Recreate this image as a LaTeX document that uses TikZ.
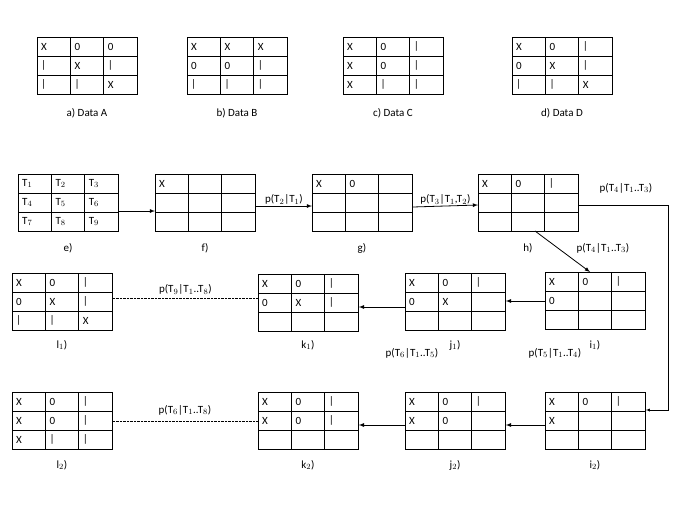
\documentclass[tikz,border=0pt]{standalone}
\usepackage{fontspec}
\setmainfont{Carlito}
\begin{document}
\begin{tikzpicture}[x=1pt,y=-1pt,font=\fontsize{11}{13}\selectfont,
  arr/.style={-latex,thick},
  dotl/.style={densely dotted},
  lab/.style={inner sep=1pt}]
\useasboundingbox (0,0) rectangle (677,507);
\newcommand\mygrid[4]{%
  \node[draw,thick,minimum width=100pt,minimum height=57pt,anchor=north west,inner sep=0] (#1) at (#2,#3) {};
  \draw[thick] (#2+33.3,#3) -- (#2+33.3,#3+57) (#2+66.7,#3) -- (#2+66.7,#3+57)
    (#2,#3+19) -- (#2+100,#3+19) (#2,#3+38) -- (#2+100,#3+38);
  \foreach \t [count=\i from 0] in {#4} {
    \pgfmathtruncatemacro\cc{mod(\i,3)}
    \pgfmathtruncatemacro\rr{int(\i/3)}
    \node[anchor=west,inner sep=0] (#1c\i) at (#2+4+\cc*33.33,#3+9.5+\rr*19) {\t};
  }}
\mygrid{A}{37}{37}{X,0,0,|,X,|,|,|,X}
\mygrid{B}{187}{37}{X,X,X,0,0,|,|,|,|}
\mygrid{C}{343}{37}{X,0,|,X,0,|,X,|,|}
\mygrid{D}{512}{37}{X,0,|,0,X,|,|,|,X}
\node (la) at (87,113) {a) Data A};
\node (lb) at (237,113) {b) Data B};
\node (lc) at (393,113) {c) Data C};
\node (ld) at (562,113) {d) Data D};
\mygrid{e}{18}{174}{T$_1$,T$_2$,T$_3$,T$_4$,T$_5$,T$_6$,T$_7$,T$_8$,T$_9$}
\mygrid{f}{155}{174}{X,,,,,,,,}
\mygrid{g}{312}{174}{X,0,,,,,,,}
\mygrid{h}{478}{174}{X,0,|,,,,,,}
\node (le) at (68,248) {e)};
\node (lf) at (205,248) {f)};
\node (lg) at (362,248) {g)};
\node (lh) at (528,248) {h)};
\mygrid{ia}{545}{272}{X,0,|,0,,,,,}
\mygrid{ja}{405}{273}{X,0,|,0,X,,,,}
\mygrid{ka}{258}{274}{X,0,|,0,X,|,,,}
\mygrid{la}{12}{273}{X,0,|,0,X,|,|,|,X}
\node (lia) at (595,345) {i$_1$)};
\node (lja) at (455,345) {j$_1$)};
\node (lka) at (308,345) {k$_1$)};
\node (lla) at (62,345) {l$_1$)};
\mygrid{ib}{545}{392}{X,0,|,X,,,,,}
\mygrid{jb}{405}{392}{X,0,|,X,0,,,,}
\mygrid{kb}{258}{392}{X,0,|,X,0,|,,,}
\mygrid{lb}{12}{392}{X,0,|,X,0,|,X,|,|}
\node (lib) at (595,465) {i$_2$)};
\node (ljb) at (455,465) {j$_2$)};
\node (lkb) at (308,465) {k$_2$)};
\node (llb) at (62,465) {l$_2$)};
% connectors
\draw[arr] (e.east |- 0,211) -- (f.west |- 0,211);
\draw[arr] (f.east |- 0,206) -- node[above,lab] {p(T$_2$|T$_1$)} (g.west |- 0,206);
\draw[arr] (g.east |- 0,207) -- node[above,lab] {p(T$_3$|T$_1$,T$_2$)} (h.west |- 0,205);
\coordinate (c1) at (668,205);
\coordinate (c2) at (668,410);
\draw[thick] (h.east |- 0,205) -- (c1);
\node[lab] (lh4) at (626,188) {p(T$_4$|T$_1$..T$_3$)};
\draw[thin,-latex] (c1) -- (c2) -- (ib.east |- c2);
\draw[arr] (535,231) -- (590,272);
\node[lab] (ld4) at (603,248) {p(T$_4$|T$_1$..T$_3$)};
\draw[arr] (ia.west |- 0,301) -- (ja.east |- 0,301);
\draw[arr] (ja.west |- 0,307) -- (ka.east |- 0,307);
\draw[dotl] (la.east |- 0,298) -- node[above=2pt,lab] {p(T$_9$|T$_1$..T$_8$)} (ka.west |- 0,298);
\node[lab] (l6) at (412,353) {p(T$_6$|T$_1$..T$_5$)};
\node[lab] (l5) at (555,353) {p(T$_5$|T$_1$..T$_4$)};
\draw[arr] (ib.west |- 0,425) -- (jb.east |- 0,425);
\draw[arr] (jb.west |- 0,425) -- (kb.east |- 0,425);
\draw[dotl] (lb.east |- 0,421) -- (kb.west |- 0,421);
\node[lab] (l68) at (185,410) {p(T$_6$|T$_1$..T$_8$)};
\end{tikzpicture}
\end{document}
